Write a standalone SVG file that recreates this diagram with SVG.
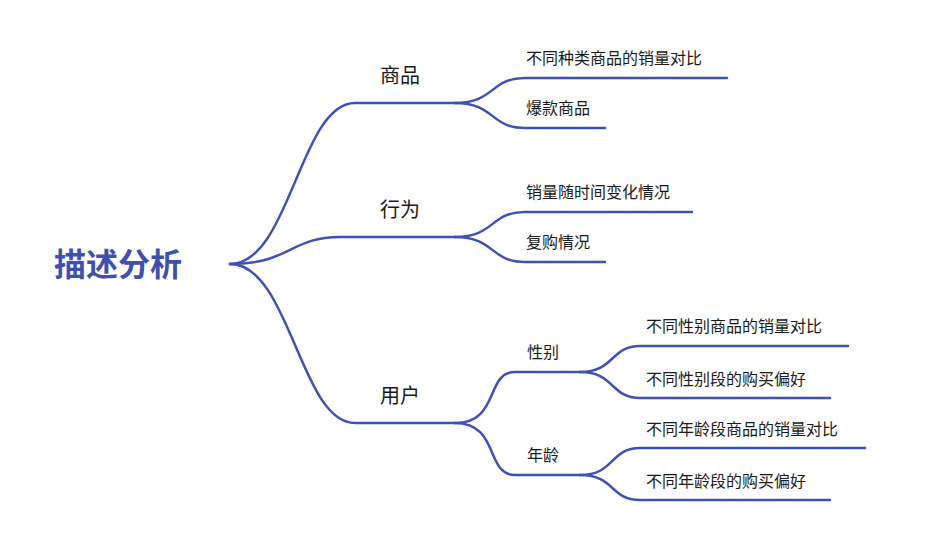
<svg xmlns="http://www.w3.org/2000/svg" width="940" height="560" viewBox="0 0 940 560">
<style>
.l{fill:none;stroke:#3f51b5;stroke-width:2.5;stroke-linecap:round}
.t{font-family:"Liberation Sans","Noto Sans CJK SC",sans-serif;fill:#1a1a1a}
.b1{font-size:20px}.b2{font-size:16px}
.r{font-family:"Liberation Sans","Noto Sans CJK SC",sans-serif;font-size:32px;font-weight:bold;fill:#3f4fb0}
</style>
<rect width="940" height="560" fill="#fff"/>
<g id="connectors">
<path class="l" d="M230 264 C290 264 300 103 355 103 H455"/>
<path class="l" d="M230 264 C290 264 290 237 340 237 H455"/>
<path class="l" d="M230 264 C290 264 300 423 355 423 H455"/>
<path class="l" d="M455 103 C495 103 490 78 525 78 H727"/>
<path class="l" d="M455 103 C495 103 490 128 525 128 H605"/>
<path class="l" d="M455 237 C495 237 490 212 525 212 H692"/>
<path class="l" d="M455 237 C495 237 490 262 525 262 H605"/>
<path class="l" d="M455 423 C500 423 485 372 515 372 H580"/>
<path class="l" d="M455 423 C500 423 485 475 515 475 H580"/>
<path class="l" d="M580 372 C615 372 610 346 640 346 H848"/>
<path class="l" d="M580 372 C615 372 610 398 640 398 H830"/>
<path class="l" d="M580 475 C615 475 610 448 640 448 H865"/>
<path class="l" d="M580 475 C615 475 610 500 640 500 H830"/>
</g>
<g id="root"><text class="r" x="54" y="276">描述分析</text></g>
<g id="n-shangpin"><text class="t b1" x="380" y="83">商品</text></g>
<g id="n-xingwei"><text class="t b1" x="380" y="217">行为</text></g>
<g id="n-yonghu"><text class="t b1" x="380" y="403">用户</text></g>
<g id="n1"><text class="t b2" x="526" y="64">不同种类商品的销量对比</text></g>
<g id="n2"><text class="t b2" x="526" y="114">爆款商品</text></g>
<g id="n3"><text class="t b2" x="526" y="198">销量随时间变化情况</text></g>
<g id="n4"><text class="t b2" x="526" y="248">复购情况</text></g>
<g id="n-xingbie"><text class="t b2" x="527" y="358">性别</text></g>
<g id="n-nianling"><text class="t b2" x="527" y="461">年龄</text></g>
<g id="n5"><text class="t b2" x="646" y="332">不同性别商品的销量对比</text></g>
<g id="n6"><text class="t b2" x="646" y="385">不同性别段的购买偏好</text></g>
<g id="n7"><text class="t b2" x="646" y="435">不同年龄段商品的销量对比</text></g>
<g id="n8"><text class="t b2" x="646" y="487">不同年龄段的购买偏好</text></g>
</svg>
